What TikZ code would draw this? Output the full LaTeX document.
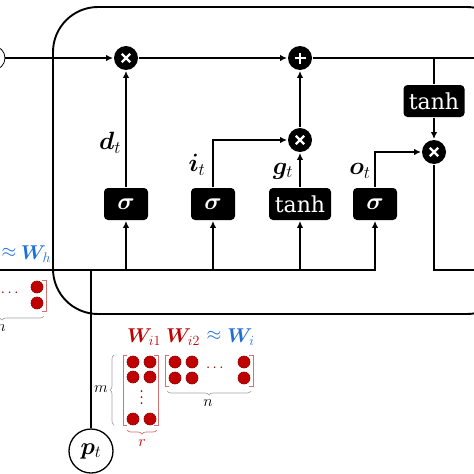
\RequirePackage{fix-cm}
\documentclass[tikz,border=0pt]{standalone}
\usepackage{amsmath,amssymb,bm}
\usepackage{fontspec}
\newfontfamily\gatefont{DejaVu Serif}
\usetikzlibrary{arrows.meta,shapes.geometric,decorations.pathreplacing,calc}
\definecolor{wred}{HTML}{C00000}
\definecolor{wblue}{HTML}{1F6FD8}
\definecolor{brk}{HTML}{D27272}
\definecolor{brc}{HTML}{A5A5A5}
\begin{document}
\begin{tikzpicture}[x=1pt,y=-1pt,line width=1.9pt,
  arr/.style={-{Latex[length=7pt,width=6.5pt]}},
  gatebox/.style={fill=black,rounded corners=4pt,minimum height=32pt,inner sep=0pt,text=white,font=\fontsize{24}{28}\selectfont},
  tanhbox/.style={gatebox,font=\gatefont\fontsize{22}{26}\selectfont},
  opnode/.style={circle,fill=black,minimum size=24pt,inner sep=0pt},
  opx/.style={opnode,path picture={
     \draw[white,line width=2.3pt] ($(path picture bounding box.center)+(-4.2,-4.2)$) -- ($(path picture bounding box.center)+(4.2,4.2)$);
     \draw[white,line width=2.3pt] ($(path picture bounding box.center)+(-4.2,4.2)$) -- ($(path picture bounding box.center)+(4.2,-4.2)$);}},
  opplus/.style={opnode,path picture={
     \draw[white,line width=2.3pt] ($(path picture bounding box.center)+(-5.5,0)$) -- ($(path picture bounding box.center)+(5.5,0)$);
     \draw[white,line width=2.3pt] ($(path picture bounding box.center)+(0,-5.5)$) -- ($(path picture bounding box.center)+(0,5.5)$);}},
  lbl/.style={font=\fontsize{25}{28}\selectfont},
  wlbl/.style={font=\fontsize{20}{24}\selectfont},
  apx/.style={font=\fontsize{19}{22}\selectfont,text=wblue},
  dimlbl/.style={font=\fontsize{16}{18}\selectfont},
  dot/.style={circle,fill=wred,draw=wred!75!black,line width=0.6pt,minimum size=12pt,inner sep=0pt},
  tiny/.style={circle,fill=wred,inner sep=0pt,minimum size=2pt},
  brack/.style={draw=brk,line width=0.8pt},
  brace/.style={decorate,decoration={brace,amplitude=4pt},line width=0.7pt},
]
\useasboundingbox (0,0) rectangle (474,474);
\begin{scope}
\clip (0,0) rectangle (474,474);
% cell box
\draw[rounded corners=45pt] (53,7) rectangle (512,314);
% nodes
\node[draw,ellipse,minimum width=24pt,minimum height=24pt,line width=0.8pt] (c) at (-7,58) {};
\node[opx] (x1) at (126,58) {};
\node[opplus] (pl) at (300,58) {};
\node[opx] (x2) at (300,140) {};
\node[opx] (x3) at (434,152) {};
\node[tanhbox,minimum width=61pt] (th) at (434,101) {tanh};
\node[gatebox,minimum width=44pt] (sd) at (126,204) {$\bm{\sigma}$};
\node[gatebox,minimum width=44pt] (si) at (213,204) {$\bm{\sigma}$};
\node[tanhbox,minimum width=62pt] (tg) at (300,204) {tanh};
\node[gatebox,minimum width=44pt] (so) at (375,204) {$\bm{\sigma}$};
\node[circle,draw,minimum size=44pt,inner sep=0pt,line width=1.3pt,font=\fontsize{24}{28}\selectfont] (pt) at (91,451) {$\bm{p}_t$};
\coordinate (cr) at (520,58);
\coordinate (j) at (434,58);
\coordinate (hout) at (520,270);
\coordinate (bl) at (-10,270);
% cell state
\draw[arr] (c) -- (x1);
\draw[arr] (x1) -- (pl);
\draw (pl) -- (cr);
\draw (j) -- (th);
\draw[arr] (th) -- (x3);
\draw[arr] (x2) -- (pl);
% gates
\draw[arr] (sd) -- (x1);
\draw[arr] (si.north) |- (x2.west);
\draw[arr] (tg) -- (x2);
\draw[arr] (so.north) |- (x3.west);
\draw (x3.south) |- (hout);
% input bus
\draw[arr] (bl) -| (so.south);
\draw[arr] (sd.south |- bl) -- (sd.south);
\draw[arr] (si.south |- bl) -- (si.south);
\draw[arr] (tg.south |- bl) -- (tg.south);
\draw (pt) -- (pt |- bl);
% labels
\node[lbl] at (110,143) {$\bm{d}_t$};
\node[lbl] at (197,165) {$\bm{i}_t$};
\node[lbl] at (283,171) {$\bm{g}_t$};
\node[lbl] at (360,171) {$\bm{o}_t$};

% ---- W_i factorisation ----
\node[wlbl,text=wred] at (144,337) {$\bm{W}_{i1}$};
\node[wlbl,text=wred] at (183,337) {$\bm{W}_{i2}$};
\node[apx] at (214,336) {$\approx$};
\node[wlbl,text=wblue] at (241,337) {$\bm{W}_{i}$};
% matrix m x r
\draw[brack] (127,355) -- (123,355) -- (123,425) -- (127,425);
\draw[brack] (154,355) -- (158,355) -- (158,425) -- (154,425);
\foreach \x in {133,150} \foreach \y in {362,377,419} \node[dot] at (\x,\y) {};
\foreach \y in {391,397,403} \node[tiny] at (141.5,\y) {};
\draw[brace,draw=brc] (114,425) -- (114,355);
\node[dimlbl] at (101,389) {$m$};
\draw[brace,draw=brk] (157,430) -- (127,430);
\node[dimlbl,text=wred] at (142,443) {$r$};
% matrix r x n
\draw[brack] (169,355) -- (165,355) -- (165,386) -- (169,386);
\draw[brack] (249,355) -- (253,355) -- (253,386) -- (249,386);
\foreach \x in {175,192,244} \foreach \y in {362,378} \node[dot] at (\x,\y) {};
\node[text=wred!80!black,font=\fontsize{15}{17}\selectfont] at (216,368) {$\cdots$};
\draw[brace,draw=brc] (251,391) -- (167,391);
\node[dimlbl] at (208,403) {$n$};

% ---- W_h factorisation (partly outside) ----
\node[apx] at (9,253) {$\approx$};
\node[wlbl,text=wblue] at (36,254) {$\bm{W}_{h}$};
\begin{scope}[shift={(-207,-75)}]
\draw[brack] (169,355) -- (165,355) -- (165,386) -- (169,386);
\draw[brack] (249,355) -- (253,355) -- (253,386) -- (249,386);
\foreach \x in {175,192,244} \foreach \y in {362,378} \node[dot] at (\x,\y) {};
\node[text=wred!80!black,font=\fontsize{15}{17}\selectfont] at (218,368) {$\cdots$};
\draw[brace,draw=brc] (251,391) -- (167,391);
\node[dimlbl] at (208,403) {$n$};
\end{scope}
\end{scope}
\end{tikzpicture}
\end{document}
